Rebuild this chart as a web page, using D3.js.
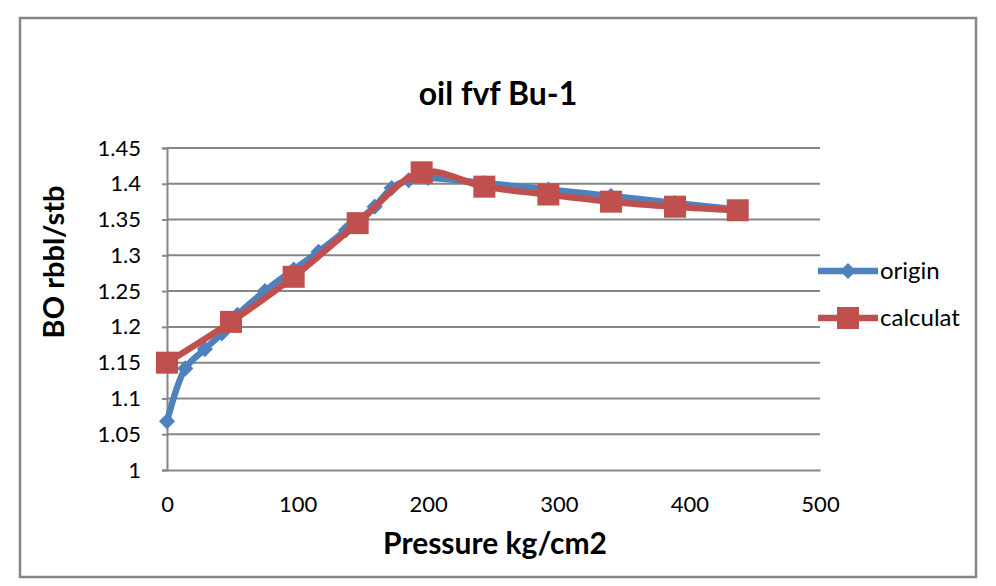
<!DOCTYPE html>
<html>
<head>
<meta charset="utf-8">
<script src="https://cdn.jsdelivr.net/npm/d3@7"></script>
<style>
  body { margin: 0; background: #fff; }
  svg { display: block; font-family: Lato, "Open Sans", sans-serif; }
</style>
</head>
<body>
<svg id="chart" width="996" height="586"></svg>
<script>
// values
const originP = [0, 14, 29, 42, 54, 75, 97, 116, 137, 159, 172, 185, 200, 243, 292, 340, 389, 437];
const originBo = [1.068, 1.142, 1.169, 1.191, 1.217, 1.250, 1.280, 1.305, 1.335, 1.368, 1.394, 1.405, 1.408, 1.401, 1.392, 1.383, 1.373, 1.364];
const calcP = [0, 49, 97, 146, 195, 243, 292, 340, 389, 437];
const calcBo = [1.150, 1.207, 1.270, 1.345, 1.416, 1.396, 1.385, 1.375, 1.368, 1.363];
const yTicks = [1, 1.05, 1.1, 1.15, 1.2, 1.25, 1.3, 1.35, 1.4, 1.45];
const xTicks = [0, 100, 200, 300, 400, 500];
const seriesNames = ['origin', 'calculat'];

const blue = '#4f81bd';
const red = '#c0504d';
const grid = '#868686';

const svg = d3.select('#chart');

// outer chart frame
svg.append('rect')
    .attr('x', 20).attr('y', 18)
    .attr('width', 956).attr('height', 559)
    .attr('fill', '#fff')
    .attr('stroke', grid)
    .attr('stroke-width', 2.5);

const x = d3.scaleLinear().domain([0, 500]).range([167, 820]);
const y = d3.scaleLinear().domain([1, 1.45]).range([470, 148]);

// gridlines
svg.append('g')
    .selectAll('line')
    .data(yTicks.slice(1))
    .enter().append('line')
    .attr('x1', x(0)).attr('x2', x(500))
    .attr('y1', d => y(d)).attr('y2', d => y(d))
    .attr('stroke', grid)
    .attr('stroke-width', 2);

// y axis
const yAxis = d3.axisLeft(y).tickValues(yTicks).tickSize(5).tickPadding(21)
    .tickFormat(d => String(+d.toFixed(2)));
const gy = svg.append('g')
    .attr('transform', `translate(${x(0)},0)`)
    .call(yAxis);
gy.select('.domain').attr('stroke', grid).attr('stroke-width', 2);
gy.selectAll('.tick line').attr('stroke', grid).attr('stroke-width', 2);
gy.selectAll('.tick text').attr('font-size', 22).attr('fill', '#000')
    .attr('font-family', 'Lato, sans-serif');

// x axis
const xAxis = d3.axisBottom(x).tickValues(xTicks).tickSize(0).tickPadding(26);
const gx = svg.append('g')
    .attr('transform', `translate(0,${y(1)})`)
    .call(xAxis);
gx.select('.domain').attr('stroke', grid).attr('stroke-width', 2);
gx.selectAll('.tick text').attr('font-size', 22).attr('fill', '#000')
    .attr('font-family', 'Lato, sans-serif');

// lines
const line = d3.line()
    .x(d => x(d[0]))
    .y(d => y(d[1]))
    .curve(d3.curveCatmullRom.alpha(0.5));

const origin = originP.map((p, i) => [p, originBo[i]]);
const calc = calcP.map((p, i) => [p, calcBo[i]]);

svg.append('path')
    .datum(origin)
    .attr('d', line)
    .attr('fill', 'none')
    .attr('stroke', blue)
    .attr('stroke-width', 6.5);

svg.append('g').selectAll('path')
    .data(origin)
    .enter().append('path')
    .attr('d', d3.symbol().type(d3.symbolSquare).size(130))
    .attr('transform', d => `translate(${x(d[0])},${y(d[1])}) rotate(45)`)
    .attr('fill', blue);

svg.append('path')
    .datum(calc)
    .attr('d', line)
    .attr('fill', 'none')
    .attr('stroke', red)
    .attr('stroke-width', 6.5);

svg.append('g').selectAll('rect')
    .data(calc)
    .enter().append('rect')
    .attr('x', d => x(d[0]) - 11)
    .attr('y', d => y(d[1]) - 11)
    .attr('width', 22).attr('height', 22)
    .attr('fill', red);

// title and axis titles
svg.append('text')
    .attr('x', 498).attr('y', 105)
    .attr('text-anchor', 'middle')
    .attr('font-size', 32).attr('font-weight', 'bold')
    .text('oil fvf Bu-1');

svg.append('text')
    .attr('x', 495).attr('y', 554)
    .attr('text-anchor', 'middle')
    .attr('font-size', 30).attr('font-weight', 'bold')
    .text('Pressure kg/cm2');

svg.append('text')
    .attr('transform', 'translate(64,262) rotate(-90)')
    .attr('text-anchor', 'middle')
    .attr('font-size', 29).attr('font-weight', 'bold')
    .text('BO rbbl/stb');

// legend
const legend = svg.append('g');
const legendY = [271, 318];
const legendColors = [blue, red];
seriesNames.forEach((name, i) => {
    const g = legend.append('g').attr('transform', `translate(818,${legendY[i]})`);
    g.append('line')
        .attr('x1', 0).attr('x2', 60)
        .attr('stroke', legendColors[i]).attr('stroke-width', 6.5);
    if (i === 0) {
        g.append('path')
            .attr('d', d3.symbol().type(d3.symbolSquare).size(130))
            .attr('transform', 'translate(30,0) rotate(45)')
            .attr('fill', blue);
    } else {
        g.append('rect')
            .attr('x', 19).attr('y', -11)
            .attr('width', 22).attr('height', 22)
            .attr('fill', red);
    }
    g.append('text')
        .attr('x', 62).attr('y', 8)
        .attr('font-size', 24)
        .text(name);
});
</script>
</body>
</html>
